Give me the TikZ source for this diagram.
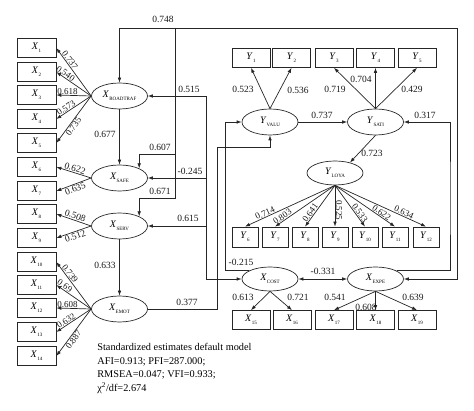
\documentclass[tikz,border=0pt]{standalone}
\usepackage{fontspec}
\setmainfont{Liberation Serif}
\usetikzlibrary{shapes.geometric,arrows.meta}
\newcommand{\vn}[2]{\textit{#1}\kern0.2pt\raisebox{-0.7ex}{\fontsize{5}{5}\selectfont #2}}
\begin{document}
\begin{tikzpicture}[x=1pt,y=-1pt,
  line width=0.7pt, draw=black!85,
  >={Latex[length=5pt,width=3.6pt]},
  box/.style={draw=black!85, rectangle, minimum width=39pt, minimum height=19pt, inner sep=0pt, font=\fontsize{10}{11}\selectfont},
  sbox/.style={box, minimum width=26pt, minimum height=20pt},
  lv/.style={draw=black!85, ellipse, minimum width=56pt, minimum height=26pt, inner sep=0pt, font=\fontsize{10}{11}\selectfont},
  lab/.style={font=\fontsize{9.5}{10}\selectfont, inner sep=0.8pt, text=black!90},
  slab/.style={lab, font=\fontsize{9}{10}\selectfont, inner sep=0.6pt},
  fit/.style={font=\fontsize{10.3}{13.6}\selectfont, align=left, inner sep=0pt, anchor=north west}]
\useasboundingbox (0,0) rectangle (474,411);

% left indicator boxes
\node[box] (x1)  at (36.5,48)  {\vn{X}{1}};
\node[box] (x2)  at (36.5,72)  {\vn{X}{2}};
\node[box] (x3)  at (36.5,95)  {\vn{X}{3}};
\node[box] (x4)  at (36.5,119) {\vn{X}{4}};
\node[box] (x5)  at (36.5,143) {\vn{X}{5}};
\node[box] (x6)  at (36.5,167) {\vn{X}{6}};
\node[box] (x7)  at (36.5,191) {\vn{X}{7}};
\node[box] (x8)  at (36.5,214) {\vn{X}{8}};
\node[box] (x9)  at (36.5,238) {\vn{X}{9}};
\node[box] (x10) at (36.5,262) {\vn{X}{10}};
\node[box] (x11) at (36.5,285) {\vn{X}{11}};
\node[box] (x12) at (36.5,308) {\vn{X}{12}};
\node[box] (x13) at (36.5,332) {\vn{X}{13}};
\node[box] (x14) at (36.5,356) {\vn{X}{14}};

% left latent variables
\node[lv] (xroad) at (119.5,96)  {\vn{X}{ROADTRAF}};
\node[lv] (xsafe) at (119.5,178) {\vn{X}{SAFE}};
\node[lv] (xserv) at (119.5,226) {\vn{X}{SERV}};
\node[lv] (xemot) at (119.5,309) {\vn{X}{EMOT}};

% right top
\node[box, minimum width=38pt] (y1) at (251,58)   {\vn{Y}{1}};
\node[box, minimum width=38pt] (y2) at (291.5,58) {\vn{Y}{2}};
\node[box, minimum width=38pt] (y3) at (334,58)   {\vn{Y}{3}};
\node[box, minimum width=38pt] (y4) at (375.5,58) {\vn{Y}{4}};
\node[box, minimum width=38pt] (y5) at (417,58)   {\vn{Y}{5}};
\node[lv] (yvalu) at (270,122)   {\vn{Y}{VALU}};
\node[lv] (ysati) at (375.5,122) {\vn{Y}{SATI}};
\node[lv, minimum height=24pt] (yloya) at (335,173) {\vn{Y}{LOYA}};

\node[sbox] (y6)  at (245,237) {\vn{Y}{6}};
\node[sbox] (y7)  at (275,237) {\vn{Y}{7}};
\node[sbox] (y8)  at (305,237) {\vn{Y}{8}};
\node[sbox] (y9)  at (335,237) {\vn{Y}{9}};
\node[sbox] (y10) at (365,237) {\vn{Y}{10}};
\node[sbox] (y11) at (395,237) {\vn{Y}{11}};
\node[sbox] (y12) at (426,237) {\vn{Y}{12}};

\node[lv, minimum height=24pt] (xcost) at (270,279)   {\vn{X}{COST}};
\node[lv, minimum height=24pt] (xexpe) at (375.5,279) {\vn{X}{EXPE}};
\node[box, minimum width=38pt] (x15) at (251,320)   {\vn{X}{15}};
\node[box, minimum width=38pt] (x16) at (292,320)   {\vn{X}{16}};
\node[box, minimum width=38pt] (x17) at (334,320)   {\vn{X}{17}};
\node[box, minimum width=38pt] (x18) at (375.5,320) {\vn{X}{18}};
\node[box, minimum width=38pt] (x19) at (417,320)   {\vn{X}{19}};

% fans: X_ROADTRAF
\draw[->] (xroad.west) -- node[slab,sloped,above,pos=.7] (f1) {0.737} (x1.east);
\draw[->] (xroad.west) -- node[slab,sloped,above,pos=.8] (f2) {0.540} (x2.east);
\draw[->] (xroad.west) -- node[slab,above,pos=.68] (f3) {0.618} (x3.east);
\draw[->] (xroad.west) -- node[slab,sloped,above,pos=.66] (f4) {0.573} (x4.east);
\draw[->] (xroad.west) -- node[slab,sloped,below,pos=.6] (f5) {0.735} (x5.east);
% X_SAFE
\draw[->] (xsafe.west) -- node[lab,sloped,above,pos=.5] (f6) {0.622} (x6.east);
\draw[->] (xsafe.west) -- node[lab,sloped,below,pos=.5] (f7) {0.635} (x7.east);
% X_SERV
\draw[->] (xserv.west) -- node[lab,sloped,above,pos=.5] (f8) {0.508} (x8.east);
\draw[->] (xserv.west) -- node[lab,sloped,below,pos=.5] (f9) {0.512} (x9.east);
% X_EMOT
\draw[->] (xemot.west) -- node[slab,sloped,above,pos=.7] (f10) {0.739} (x10.east);
\draw[->] (xemot.west) -- node[slab,sloped,above,pos=.82] (f11) {0.69} (x11.east);
\draw[->] (xemot.west) -- node[slab,above,pos=.68] (f12) {0.608} (x12.east);
\draw[->] (xemot.west) -- node[slab,sloped,above,pos=.66] (f13) {0.632} (x13.east);
\draw[->] (xemot.west) -- node[slab,sloped,below,pos=.6] (f14) {0.887} (x14.east);

% structural chain on the left
\draw[->] (xroad.south) -- (xsafe.north);
\draw[->] (xserv.south) -- (xemot.north);
\node[lab] (l677) at (105,134) {0.677};
\node[lab] (l633) at (105,265) {0.633};

% 0.748 bus from X_EXPE
\coordinate (b1) at (457,28);
\coordinate (b2) at (175,28);
\coordinate (k1) at (0,154);
\coordinate (k2) at (0,198);
\draw[<->] (xexpe.east) -| (b1) -| (xroad.north);
\draw[->] (b2) |- (xsafe.26 |- k1) -- (xsafe.26);
\draw[->] (b2) |- (xserv.26 |- k2) -- (xserv.26);
\node[lab] (l748) at (163,19)  {0.748};
\node[lab] (l607) at (160,147) {0.607};
\node[lab] (l671) at (160,191) {0.671};

% 0.515 bus from X_COST
\coordinate (b3) at (206,96);
\draw[<->] (xcost.west) -| (b3) -- (xroad.east);
\draw[->] (b3 |- xsafe.east) -- (xsafe.east);
\draw[->] (b3 |- xserv.east) -- (xserv.east);
\node[lab] (l515) at (189,89)  {0.515};
\node[lab] (l245) at (190,171) {-0.245};
\node[lab] (l615) at (188,218) {0.615};

% X_EMOT -> Y_VALU
\coordinate (b4) at (217,147);
\draw[->] (xemot.east) -| (b4) -| (yvalu.south);
\node[lab] (l377) at (187,302) {0.377};

% X_COST -> Y_VALU
\coordinate (b5) at (225,122);
\draw[->] (xcost.159) -| (b5) -- (yvalu.west);
\node[lab] (l215) at (241,262) {-0.215};

% Y_VALU -> Y_SATI
\draw[->] (yvalu.east) -- (ysati.west);
\node[lab] (l737) at (322,115) {0.737};

% X_EXPE -> Y_SATI
\coordinate (b6) at (450,200);
\draw[->] (xexpe.21) -| (b6) |- (ysati.east);
\node[lab] (l317) at (425,115) {0.317};

% Y_SATI -> Y_LOYA
\draw[->] (ysati.south) -- (yloya.35);
\node[lab] (l723) at (372,153) {0.723};

% covariance X_COST <-> X_EXPE
\draw[<->] (xcost.east) -- (xexpe.west);
\node[lab] (l331) at (323,271) {-0.331};

% Y top indicators
\draw[->] (yvalu.north) -- (y1.south);
\draw[->] (yvalu.north) -- (y2.south);
\draw[->] (ysati.north) -- (y3.south);
\draw[->] (ysati.north) -- (y4.south);
\draw[->] (ysati.north) -- (y5.south);
\node[lab] (l523) at (243,89) {0.523};
\node[lab] (l536) at (298,90) {0.536};
\node[lab] (l719) at (335,89) {0.719};
\node[lab] (l704) at (361,79) {0.704};
\node[lab] (l429) at (412,89) {0.429};

% Y_LOYA fan
\draw[->] (yloya.south) -- node[slab,sloped,above,pos=.76] (g6)  {0.714} (y6.north);
\draw[->] (yloya.south) -- node[slab,sloped,above,pos=.84] (g7)  {0.803} (y7.north);
\draw[->] (yloya.south) -- node[slab,sloped,above,pos=.72] (g8)  {0.641} (y8.north);
\draw[->] (yloya.south) -- node[slab,sloped,above,pos=.6]  (g9)  {0.525} (y9.north);
\draw[->] (yloya.south) -- node[slab,sloped,above,pos=.72] (g10) {0.533} (y10.north);
\draw[->] (yloya.south) -- node[slab,sloped,above,pos=.74] (g11) {0.622} (y11.north);
\draw[->] (yloya.south) -- node[slab,sloped,above,pos=.74] (g12) {0.634} (y12.north);

% bottom indicators
\draw[->] (xcost.south) -- (x15.north);
\draw[->] (xcost.south) -- (x16.north);
\draw[->] (xexpe.south) -- (x17.north);
\draw[->] (xexpe.south) -- (x18.north);
\draw[->] (xexpe.south) -- (x19.north);
\node[lab] (l613) at (243,297) {0.613};
\node[lab] (l721) at (298,297) {0.721};
\node[lab] (l541) at (335,297) {0.541};
\node[lab] (l608) at (366,307) {0.608};
\node[lab] (l639) at (413,297) {0.639};

% fit text
\node[fit] (fitbox) at (97,343) {Standardized estimates default model\\AFI=0.913; PFI=287.000;\\RMSEA=0.047; VFI=0.933;\\χ\textsuperscript{2}/df=2.674};
\end{tikzpicture}
\end{document}
